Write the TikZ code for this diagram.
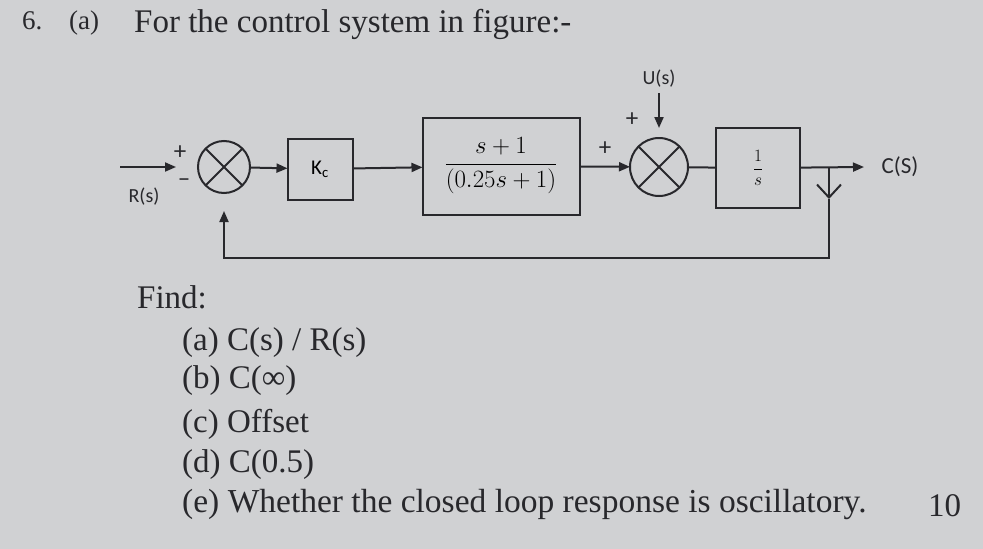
\documentclass[tikz,border=0pt]{standalone}
\usepackage{fontspec}
\setmainfont{Liberation Serif}
\newfontfamily\lblfont{Carlito}
\usetikzlibrary{arrows.meta}
\definecolor{paper}{RGB}{208,209,211}
\definecolor{ink}{RGB}{40,40,44}

\begin{document}
\begin{tikzpicture}[x=1pt,y=-1pt,
  blk/.style={draw=ink, line width=2pt, inner sep=0pt, outer sep=0pt},
  summer/.style={circle, draw=ink, line width=2pt, minimum size=#1, inner sep=0pt, outer sep=0pt},
  wire/.style={draw=ink, line width=2pt},
  sig/.style={wire, -{Triangle[length=11pt,width=9pt]}},
  lbl/.style={text=ink, inner sep=0pt, font=\lblfont\fontsize{20}{20}\selectfont},
  sgn/.style={text=ink, inner sep=0pt, font=\lblfont\fontsize{25}{25}\selectfont},
  txt/.style={text=ink, anchor=base west, inner sep=0pt, font=\fontsize{33}{33}\selectfont}]
\useasboundingbox[fill=paper] (0,0) rectangle (983,549);

% blocks
\node[summer=52pt] (s1) at (224,167) {};
\draw[wire] (s1.north west) -- (s1.south east) (s1.north east) -- (s1.south west);
\node[blk, minimum width=65pt, minimum height=61pt] (kc) at (320,169) {\lblfont\fontsize{21}{21}\selectfont K\textsubscript{c}};
\node[blk, minimum width=157pt, minimum height=97pt] (g) at (501,166) {\fontsize{25}{30}\selectfont$\displaystyle\frac{s+1}{(0.25s+1)}$};
\node[summer=58pt] (s2) at (659,167) {};
\draw[wire] (s2.north west) -- (s2.south east) (s2.north east) -- (s2.south west);
\node[blk, minimum width=84pt, minimum height=80pt] (ps) at (758,168) {\fontsize{17}{20}\selectfont$\displaystyle\frac{1}{s}$};

% free ends
\coordinate (rin) at (120,167);
\coordinate (uin) at (659,93);
\coordinate (cout) at (864,167);
\coordinate (br) at (829,167);
\coordinate (fbv) at (829,199);
\coordinate (fbr) at (829,258);
\coordinate (fbl) at (224,258);

% signals
\draw[sig, shorten >=22pt] (rin) -- (s1);
\draw[sig] (s1) -- (kc);
\draw[sig] (kc) -- (g);
\draw[sig] (g) -- (s2);
\draw[sig, shorten >=10pt] (uin) -- (s2);
\draw[wire] (s2) -- (ps);
\draw[sig] (ps) -- (cout);
\draw[wire, -{Straight Barb[length=13pt,width=24pt]}] (br) -- (fbv);
\draw[sig, shorten >=18pt] (fbv) -- (fbr) -- (fbl) -- (s1);

% signal labels
\node[lbl] (rlbl) at (144,197) {R(s)};
\node[sgn] (p1) at (180,153) {+};
\node[sgn] (m1) at (184,183) {\textendash};
\node[sgn] (p2) at (605,149) {+};
\node[sgn] (p3) at (632,120) {+};
\node[lbl] (ulbl) at (659,79) {U(s)};
\node[lbl, font=\lblfont\fontsize{23}{23}\selectfont] (clbl) at (900,167) {C(S)};

% question text
\node[txt, font=\fontsize{27}{27}\selectfont] (qno) at (22,29) {6.};
\node[txt, font=\fontsize{27}{27}\selectfont] (qpart) at (69,29) {(a)};
\node[txt] (stem) at (134,32) {For the control system in figure:-};
\node[txt] (find) at (137,308) {Find:};
\node[txt] (ia) at (182,350) {(a) C(s) / R(s)};
\node[txt] (ib) at (182,388) {(b) C(∞)};
\node[txt] (ic) at (182,432) {(c) Offset};
\node[txt] (id) at (182,472) {(d) C(0.5)};
\node[txt, font=\fontsize{33.5}{33.5}\selectfont] (ie) at (182,512) {(e) Whether the closed loop response is oscillatory.};
\node[txt] (mk) at (928,516) {10};
\end{tikzpicture}
\end{document}
